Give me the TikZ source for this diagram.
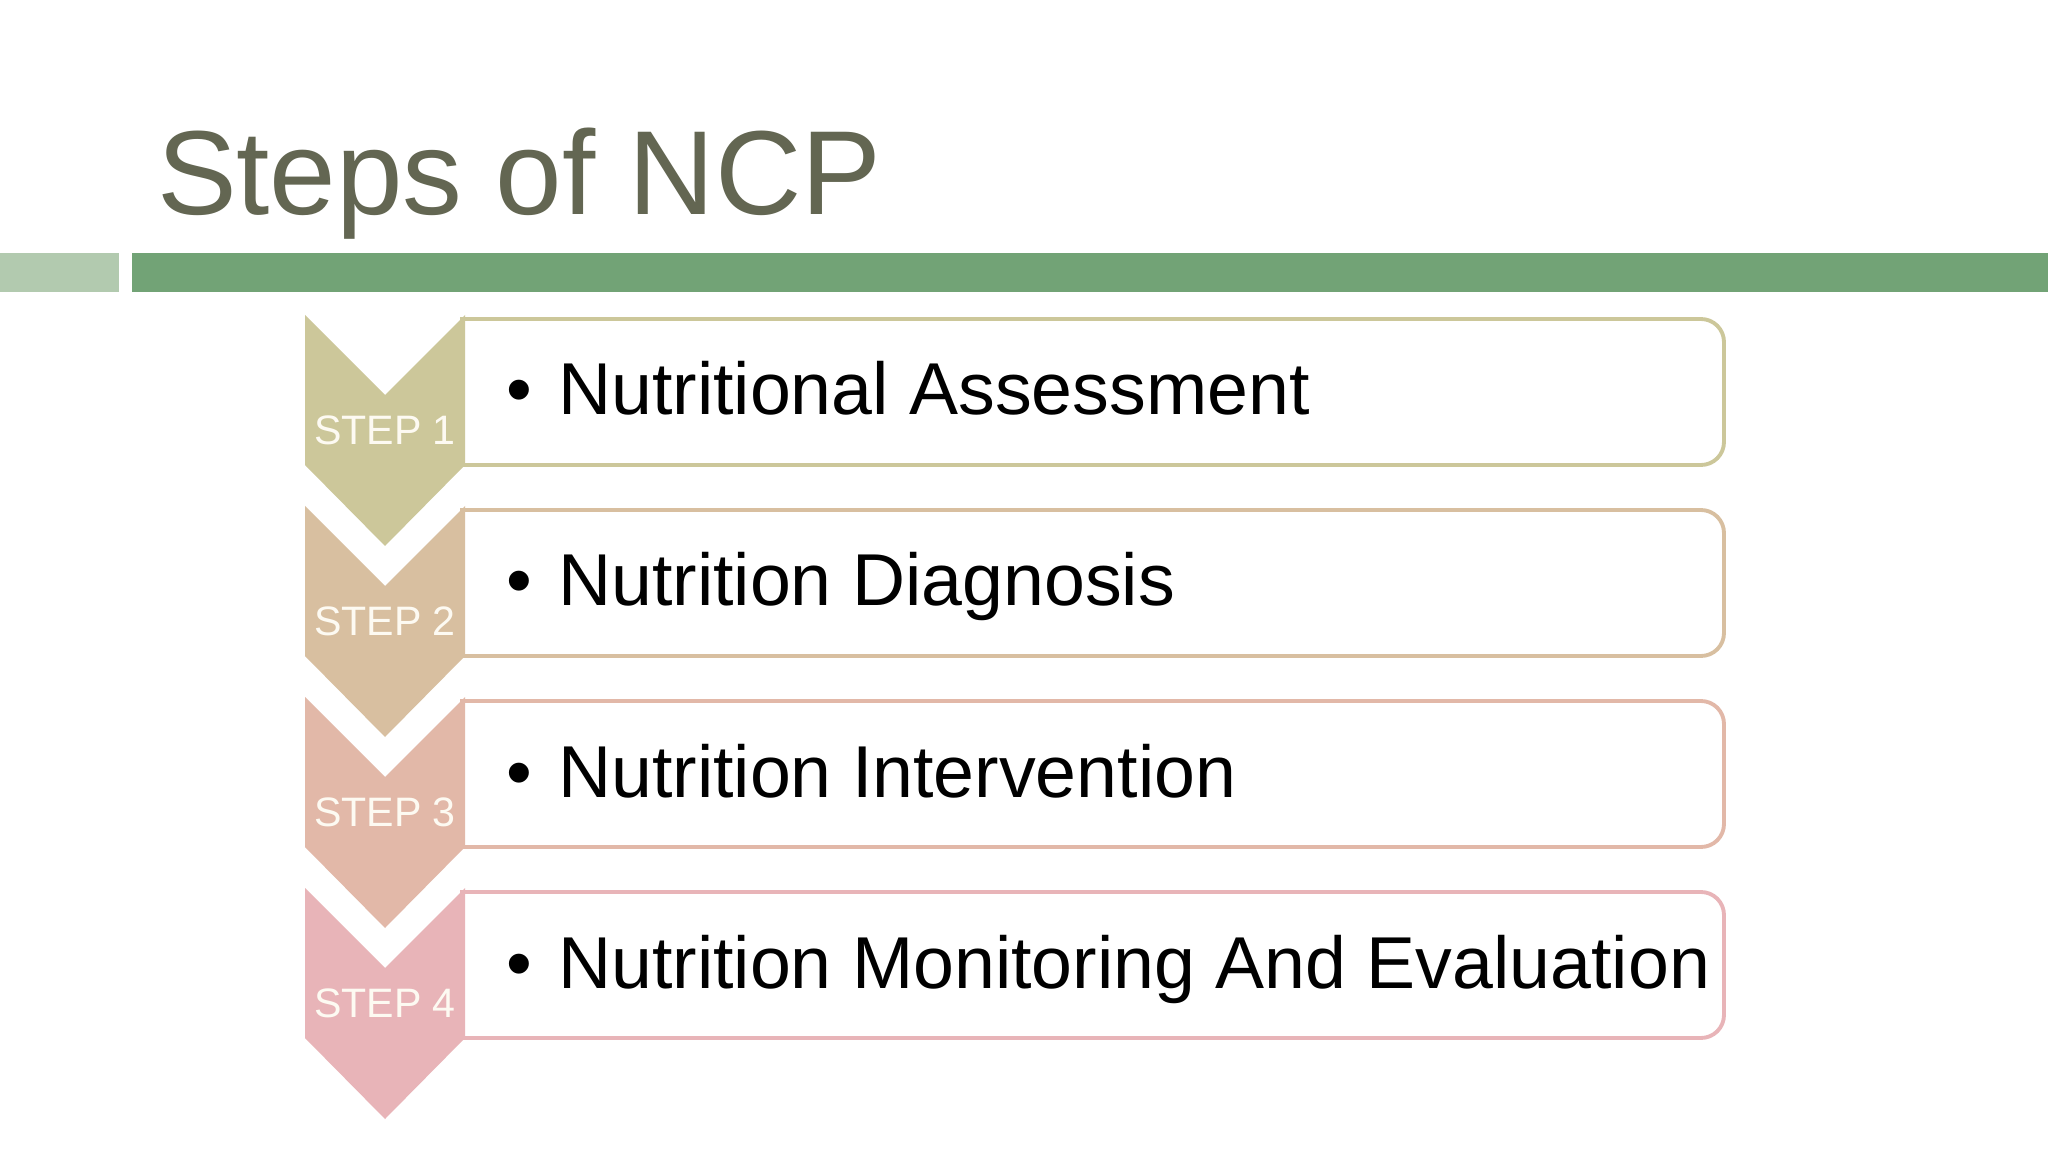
\documentclass[tikz,border=0pt]{standalone}
\usepackage{fontspec}
\setmainfont{Liberation Sans}
\usetikzlibrary{positioning}
\definecolor{titlegray}{RGB}{99,102,82}
\definecolor{barlight}{RGB}{178,202,175}
\definecolor{bardark}{RGB}{114,163,118}
\definecolor{stepA}{RGB}{204,199,154}
\definecolor{stepB}{RGB}{216,191,160}
\definecolor{stepC}{RGB}{226,184,168}
\definecolor{stepD}{RGB}{232,180,184}
\definecolor{labelwhite}{RGB}{253,250,242}

\begin{document}
\begin{tikzpicture}[x=0.01cm, y=-0.01cm, every node/.style={inner sep=0pt, outer sep=0pt},
  itembox/.style={draw=#1, fill=white, line width=1.1pt, rounded corners=0.23cm},
  steplabel/.style={text=labelwhite, font=\fontsize{11.7}{14}\selectfont},
  itemtext/.style={anchor=base west, font=\fontsize{20.9}{25}\selectfont}]
\useasboundingbox (0,0) rectangle (2048,1152);
\fill[white] (0,0) rectangle (2048,1152);
% title and bars
\node[anchor=base west, text=titlegray, font=\fontsize{34}{40}\selectfont] (title) at (157,215) {Steps of NCP};
\fill[barlight] (0,253) rectangle (119,292);
\fill[bardark] (132,253) rectangle (2048,292);
% steps
\foreach \i/\c/\txt in {1/stepA/Nutritional Assessment, 2/stepB/Nutrition Diagnosis, 3/stepC/Nutrition Intervention, 4/stepD/Nutrition Monitoring And Evaluation}{
  \pgfmathsetmacro{\t}{315+191*(\i-1)}
  \filldraw[itembox=\c] (460,\t+4) -- (1724,\t+4) -- (1724,\t+150) -- (460,\t+150);
  \fill[\c] (305,\t) -- ++(80,80) -- ++(80,-80) -- ++(0,150) -- ++(-80,81) -- ++(-80,-81) -- cycle;
  \node[steplabel] (step\i) at (385,\t+115) {STEP \i};
  \node[itemtext] (txt\i) at (506,\t+100) {•\hspace{0.36em}\txt};
}
\end{tikzpicture}
\end{document}
